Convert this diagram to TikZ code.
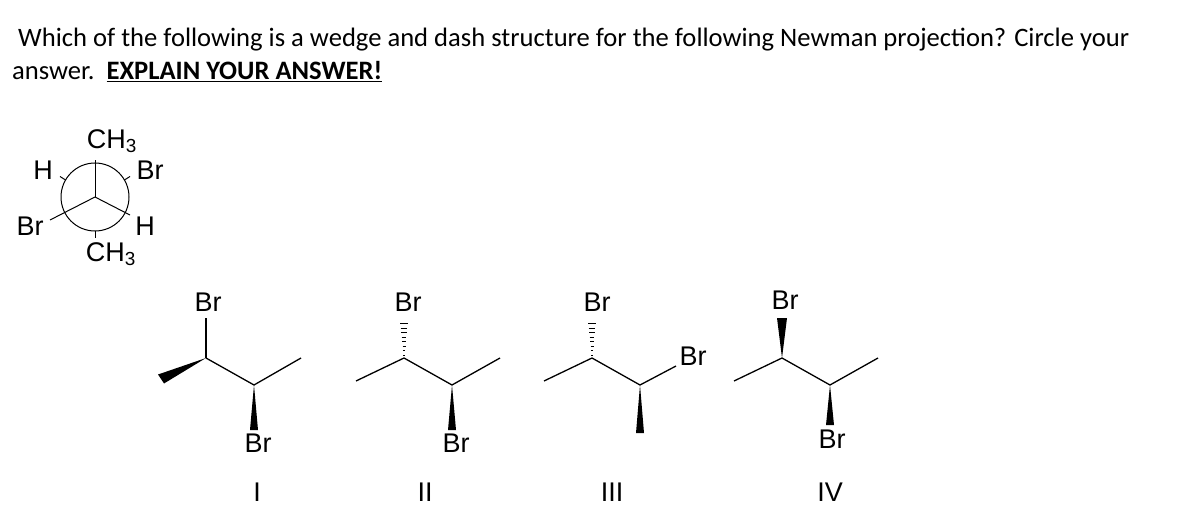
\documentclass[tikz,border=0pt]{standalone}
\usepackage{fontspec}
\setmainfont{Carlito}
\newfontfamily\chem{Liberation Sans}
\begin{document}
\begin{tikzpicture}[x=1pt,y=-1pt,
  bond/.style={line width=1.3pt},
  lbl/.style={font=\chem\fontsize{27}{28}\selectfont, inner sep=0pt},
  roman/.style={font=\chem\fontsize{27}{28}\selectfont, inner sep=0pt}]
\useasboundingbox (0,0) rectangle (1180,532);
\node[anchor=base west, inner sep=0pt, font=\fontsize{26.6}{28}\selectfont] (q1) at (18,47) {Which of the following is a wedge and dash structure for the following Newman projection? Circle your};
\node[anchor=base west, inner sep=0pt, font=\fontsize{26.6}{28}\selectfont] (q2) at (12,80) {answer.\ \ \textbf{\underline{EXPLAIN YOUR ANSWER!}}};
% Newman
\coordinate (nc) at (95,197);
\draw[line width=1pt] (nc) circle (34);
\draw[line width=1pt] (nc) -- (95,160);
\draw[line width=1pt] (nc) -- (50,220);
\draw[line width=1pt] (nc) -- (130,215);
\draw[line width=1pt] (65.6,180) -- (60,176.5);
\draw[line width=1pt] (124.4,180) -- (130,176.5);
\draw[line width=1pt] (95,231) -- (95,238);
\node[lbl] (n1) at (112,141) {CH\textsubscript{3}};
\node[lbl] (n2) at (150,170) {Br};
\node[lbl] (n3) at (43,170) {H};
\node[lbl] (n4) at (30,226) {Br};
\node[lbl] (n5) at (145,226) {H};
\node[lbl] (n6) at (111,254) {CH\textsubscript{3}};
% I
\coordinate (a1) at (206,358); \coordinate (a2) at (254,385);
\draw[bond] (a1) -- (206,318); \node[lbl] (b1) at (208,302) {Br};
\fill (a1) -- (158,374.5) -- (164,383.5) -- cycle;
\draw[bond] (a1) -- (a2) -- (301,358);
\fill (a2) -- (250,430) -- (258,430) -- cycle; \node[lbl] (b2) at (258,443) {Br};
\node[roman] (r1) at (257,492) {I};
% II
\coordinate (c1) at (404,358); \coordinate (c2) at (452,385);
\foreach \i in {0,...,7} {\draw[line width=0.9pt] ({404-0.6-\i*0.45},{355-\i*4.5}) -- ({404+0.6+\i*0.45},{355-\i*4.5});}
\node[lbl] (b3) at (408,302) {Br};
\draw[bond] (356,381) -- (c1) -- (c2) -- (500,358);
\fill (c2) -- (448,430) -- (456,430) -- cycle; \node[lbl] (b4) at (456,443) {Br};
\node[roman] (r2) at (425,492) {II};
% III
\coordinate (d1) at (592,358); \coordinate (d2) at (640,385);
\foreach \i in {0,...,7} {\draw[line width=0.9pt] ({592-0.6-\i*0.45},{355-\i*4.5}) -- ({592+0.6+\i*0.45},{355-\i*4.5});}
\node[lbl] (b5) at (597,302) {Br};
\draw[bond] (544,381) -- (d1) -- (d2) -- (676,366);
\node[lbl] (b6) at (693,356) {Br};
\fill (d2) -- (636,433) -- (644,433) -- cycle;
\node[roman] (r3) at (612,492) {III};
% IV
\coordinate (e1) at (782,358); \coordinate (e2) at (830,385);
\fill (e1) -- (777,318) -- (787,318) -- cycle;
\node[lbl] (b7) at (785,300) {Br};
\draw[bond] (734,381) -- (e1) -- (e2) -- (878,358);
\fill (e2) -- (826,425) -- (834,425) -- cycle; \node[lbl] (b8) at (832,439) {Br};
\node[roman] (r4) at (830,492) {IV};
\end{tikzpicture}
\end{document}
